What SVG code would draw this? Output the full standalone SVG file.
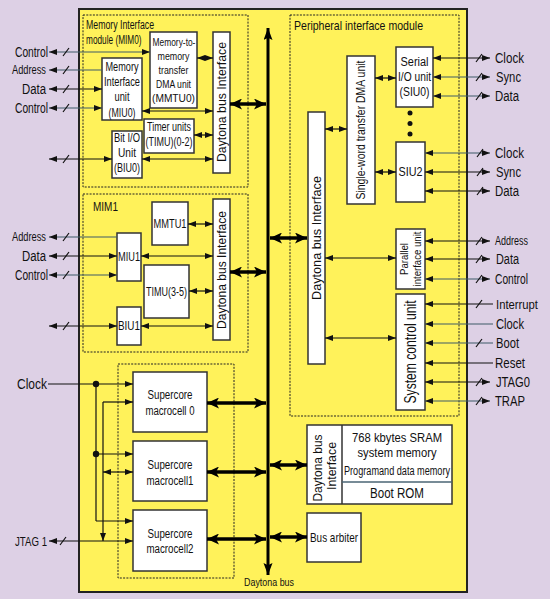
<svg xmlns="http://www.w3.org/2000/svg" width="550" height="599" viewBox="0 0 550 599">
<style>
.t{font-family:"Liberation Sans",Arial,sans-serif;fill:#111;dominant-baseline:central;text-anchor:middle}
.s{text-anchor:start}
.bx{fill:#fff;stroke:#333;stroke-width:1.5}
.dt{fill:none;stroke:#222;stroke-width:1;stroke-dasharray:2 1.3}
.ln{fill:none;stroke:#111;stroke-width:1.2}
.gl{fill:none;stroke:#3f5a68;stroke-width:1.2}
.b{marker-start:url(#a);marker-end:url(#a)}
.st{marker-start:url(#a)}
.en{marker-end:url(#a)}
.th{fill:none;stroke:#000;stroke-width:3.5;marker-start:url(#A);marker-end:url(#A)}
.sl{fill:none;stroke:#111;stroke-width:1.2}
</style>
<defs>
<marker id="a" viewBox="0 0 8 6" refX="8" refY="3" markerWidth="8" markerHeight="6" markerUnits="userSpaceOnUse" orient="auto-start-reverse"><path d="M0,0 L8,3 L0,6 z" fill="#111"/></marker>
<marker id="A" viewBox="0 0 12 11" refX="12" refY="5.5" markerWidth="12" markerHeight="11" markerUnits="userSpaceOnUse" orient="auto-start-reverse"><path d="M0,0 L12,5.5 L0,11 L3,5.5 z" fill="#000"/></marker>
<marker id="B" viewBox="0 0 12 16" refX="16" refY="6" markerWidth="16" markerHeight="12" markerUnits="userSpaceOnUse" orient="auto-start-reverse"><path d="M0,0 L16,6 L0,12 L3,6 z" fill="#000"/></marker>
</defs>
<rect width="550" height="599" fill="#ddd0e5"/>
<rect x="79" y="9" width="388" height="583" fill="#fff25a" stroke="#222" stroke-width="2"/>

<!-- dotted module frames -->
<g id="mim0-frame"><rect class="dt" x="83" y="15" width="165" height="172"/>
<text class="t s" x="86" y="25" font-size="12" textLength="68" lengthAdjust="spacingAndGlyphs">Memory Interface</text>
<text class="t s" transform="translate(86,40) scale(0.69,1)" x="0" y="0" font-size="12">module (MIM0)</text></g>
<g id="mim1-frame"><rect class="dt" x="83" y="194" width="165" height="158"/>
<text class="t s" x="93" y="207" font-size="12" textLength="25" lengthAdjust="spacingAndGlyphs">MIM1</text></g>
<g id="pim-frame"><rect class="dt" x="290" y="15" width="169" height="401"/>
<text class="t s" x="294" y="25" font-size="13" textLength="129" lengthAdjust="spacingAndGlyphs">Peripheral interface module</text></g>
<g id="core-frame"><rect class="dt" x="118" y="364" width="116" height="214"/></g>

<!-- MIM0 nodes -->
<g id="mmtu0"><rect class="bx" x="150" y="32" width="47" height="76"/>
<text class="t" transform="translate(174,42) scale(0.73,1)" x="0" y="0" font-size="11.5">Memory-to-</text>
<text class="t" x="173.5" y="56" font-size="11.5" textLength="32" lengthAdjust="spacingAndGlyphs">memory</text>
<text class="t" x="173.5" y="70" font-size="11.5" textLength="30" lengthAdjust="spacingAndGlyphs">transfer</text>
<text class="t" x="173.5" y="84" font-size="11.5" textLength="35" lengthAdjust="spacingAndGlyphs">DMA unit</text>
<text class="t" x="173.5" y="98" font-size="11.5" textLength="43" lengthAdjust="spacingAndGlyphs">(MMTU0)</text></g>
<g id="dbi0"><rect class="bx" x="213" y="32" width="17" height="141"/>
<text class="t" transform="translate(221.5,102) rotate(-90)" x="0" y="0" font-size="13" textLength="120" lengthAdjust="spacingAndGlyphs">Daytona bus Interface</text></g>
<g id="miu0"><rect class="bx" x="102" y="58" width="40" height="62"/>
<text class="t" x="122" y="67" font-size="12" textLength="33" lengthAdjust="spacingAndGlyphs">Memory</text>
<text class="t" x="122" y="82" font-size="12" textLength="36" lengthAdjust="spacingAndGlyphs">Interface</text>
<text class="t" x="122" y="97" font-size="12" textLength="15" lengthAdjust="spacingAndGlyphs">unit</text>
<text class="t" x="122" y="113" font-size="12" textLength="27" lengthAdjust="spacingAndGlyphs">(MIU0)</text></g>
<g id="timu0"><rect class="bx" x="144" y="119" width="50" height="34"/>
<text class="t" x="169" y="127" font-size="12" textLength="44" lengthAdjust="spacingAndGlyphs">Timer units</text>
<text class="t" x="169" y="142" font-size="12" textLength="47" lengthAdjust="spacingAndGlyphs">(TIMU)(0-2)</text></g>
<g id="biu0"><rect class="bx" x="112" y="131" width="30" height="47"/>
<text class="t" x="127" y="138" font-size="12" textLength="26" lengthAdjust="spacingAndGlyphs">Bit I/O</text>
<text class="t" x="127" y="153" font-size="12" textLength="18" lengthAdjust="spacingAndGlyphs">Unit</text>
<text class="t" x="127" y="168" font-size="12" textLength="26" lengthAdjust="spacingAndGlyphs">(BIU0)</text></g>

<!-- MIM1 nodes -->
<g id="mmtu1"><rect class="bx" x="152" y="202" width="36" height="43"/>
<text class="t" x="170" y="224" font-size="12" textLength="33" lengthAdjust="spacingAndGlyphs">MMTU1</text></g>
<g id="dbi1"><rect class="bx" x="213" y="199" width="17" height="141"/>
<text class="t" transform="translate(221.5,270) rotate(-90)" x="0" y="0" font-size="13" textLength="118" lengthAdjust="spacingAndGlyphs">Daytona bus Interface</text></g>
<g id="miu1"><rect class="bx" x="117" y="233" width="24" height="48"/>
<text class="t" x="129" y="257" font-size="12" textLength="22" lengthAdjust="spacingAndGlyphs">MIU1</text></g>
<g id="timu1"><rect class="bx" x="144" y="265" width="45" height="53"/>
<text class="t" x="166.5" y="292" font-size="12" textLength="41" lengthAdjust="spacingAndGlyphs">TIMU(3-5)</text></g>
<g id="biu1"><rect class="bx" x="117" y="307" width="24" height="38"/>
<text class="t" x="129" y="326" font-size="12" textLength="22" lengthAdjust="spacingAndGlyphs">BIU1</text></g>

<!-- Peripheral nodes -->
<g id="dbip"><rect class="bx" x="308" y="112" width="17" height="252"/>
<text class="t" transform="translate(316.5,238) rotate(-90)" x="0" y="0" font-size="13" textLength="124" lengthAdjust="spacingAndGlyphs">Daytona bus Interface</text></g>
<g id="dma"><rect class="bx" x="347" y="56" width="28" height="148"/>
<text class="t" transform="translate(361,130) rotate(-90)" x="0" y="0" font-size="12.5" textLength="139" lengthAdjust="spacingAndGlyphs">Single-word transfer DMA unit</text></g>
<g id="siu0"><rect class="bx" x="396" y="47" width="37" height="60"/>
<text class="t" x="414.5" y="62" font-size="12" textLength="28" lengthAdjust="spacingAndGlyphs">Serial</text>
<text class="t" x="414.5" y="77" font-size="12" textLength="33" lengthAdjust="spacingAndGlyphs">I/O unit</text>
<text class="t" x="414.5" y="92" font-size="12" textLength="30" lengthAdjust="spacingAndGlyphs">(SIU0)</text></g>
<g id="dots"><circle cx="410" cy="113" r="2.5" fill="#111"/><circle cx="410" cy="123.5" r="2.5" fill="#111"/><circle cx="410" cy="134" r="2.5" fill="#111"/></g>
<g id="siu2"><rect class="bx" x="396" y="142" width="29" height="60"/>
<text class="t" x="410.5" y="172" font-size="12" textLength="24" lengthAdjust="spacingAndGlyphs">SIU2</text></g>
<g id="piu"><rect class="bx" x="396" y="229" width="29" height="60"/>
<text class="t" transform="translate(404,259) rotate(-90)" x="0" y="0" font-size="10" textLength="32" lengthAdjust="spacingAndGlyphs">Parallel</text>
<text class="t" transform="translate(417,259) rotate(-90)" x="0" y="0" font-size="10" textLength="55" lengthAdjust="spacingAndGlyphs">interface unit</text></g>
<g id="scu"><rect class="bx" x="396" y="294" width="29" height="116"/>
<text class="t" transform="translate(410.5,352) rotate(-90)" x="0" y="0" font-size="16" textLength="103" lengthAdjust="spacingAndGlyphs">System control unit</text></g>

<!-- Supercore nodes -->
<g id="sc0"><rect class="bx" x="133" y="372" width="74" height="60"/>
<text class="t" x="170" y="395" font-size="12" textLength="45" lengthAdjust="spacingAndGlyphs">Supercore</text>
<text class="t" x="170" y="411" font-size="12" textLength="49" lengthAdjust="spacingAndGlyphs">macrocell 0</text></g>
<g id="sc1"><rect class="bx" x="133" y="441" width="74" height="60"/>
<text class="t" x="170" y="465" font-size="12" textLength="45" lengthAdjust="spacingAndGlyphs">Supercore</text>
<text class="t" x="170" y="481" font-size="12" textLength="47" lengthAdjust="spacingAndGlyphs">macrocell1</text></g>
<g id="sc2"><rect class="bx" x="133" y="510" width="74" height="61"/>
<text class="t" x="170" y="534" font-size="12" textLength="45" lengthAdjust="spacingAndGlyphs">Supercore</text>
<text class="t" x="170" y="549" font-size="12" textLength="47" lengthAdjust="spacingAndGlyphs">macrocell2</text></g>

<!-- Memory / arbiter -->
<g id="mem"><rect class="bx" x="307" y="425" width="145" height="79"/>
<line x1="342" y1="425" x2="342" y2="504" stroke="#333" stroke-width="1.5"/>
<line x1="342" y1="482" x2="452" y2="482" stroke="#4a6575" stroke-width="1.5"/>
<text class="t" transform="translate(318,468) rotate(-90)" x="0" y="0" font-size="12.5" textLength="67" lengthAdjust="spacingAndGlyphs">Daytona bus</text>
<text class="t" transform="translate(332,466) rotate(-90)" x="0" y="0" font-size="12.5" textLength="48" lengthAdjust="spacingAndGlyphs">Interface</text>
<text class="t" x="397" y="437" font-size="13" textLength="90" lengthAdjust="spacingAndGlyphs">768 kbytes SRAM</text>
<text class="t" x="397" y="452" font-size="13" textLength="79" lengthAdjust="spacingAndGlyphs">system memory</text>
<text class="t" x="397" y="471" font-size="12" textLength="106" lengthAdjust="spacingAndGlyphs">Programand data memory</text>
<text class="t" x="397" y="493" font-size="14" textLength="54" lengthAdjust="spacingAndGlyphs">Boot ROM</text></g>
<g id="arb"><rect class="bx" x="307" y="513" width="54" height="49"/>
<text class="t" x="334" y="537" font-size="13" textLength="48" lengthAdjust="spacingAndGlyphs">Bus arbiter</text></g>

<!-- external labels -->
<g id="labels-left">
<text class="t" x="31.5" y="52" font-size="14" textLength="33" lengthAdjust="spacingAndGlyphs">Control</text>
<text class="t" x="29" y="70" font-size="12" textLength="34" lengthAdjust="spacingAndGlyphs">Address</text>
<text class="t" x="34" y="89" font-size="14" textLength="24" lengthAdjust="spacingAndGlyphs">Data</text>
<text class="t" x="31.5" y="108" font-size="14" textLength="33" lengthAdjust="spacingAndGlyphs">Control</text>
<text class="t" x="29" y="237" font-size="12" textLength="34" lengthAdjust="spacingAndGlyphs">Address</text>
<text class="t" x="34" y="256" font-size="14" textLength="24" lengthAdjust="spacingAndGlyphs">Data</text>
<text class="t" x="31.5" y="275" font-size="14" textLength="33" lengthAdjust="spacingAndGlyphs">Control</text>
<text class="t" x="32" y="384" font-size="14" textLength="30" lengthAdjust="spacingAndGlyphs">Clock</text>
<text class="t" x="31" y="541" font-size="13" textLength="32" lengthAdjust="spacingAndGlyphs">JTAG 1</text>
</g>
<g id="labels-right">
<text class="t" x="509.5" y="58" font-size="14" textLength="29" lengthAdjust="spacingAndGlyphs">Clock</text>
<text class="t" x="508.5" y="77" font-size="14" textLength="25" lengthAdjust="spacingAndGlyphs">Sync</text>
<text class="t" x="507" y="96" font-size="14" textLength="24" lengthAdjust="spacingAndGlyphs">Data</text>
<text class="t" x="509.5" y="153" font-size="14" textLength="29" lengthAdjust="spacingAndGlyphs">Clock</text>
<text class="t" x="508.5" y="172" font-size="14" textLength="25" lengthAdjust="spacingAndGlyphs">Sync</text>
<text class="t" x="507" y="191" font-size="14" textLength="24" lengthAdjust="spacingAndGlyphs">Data</text>
<text class="t" x="511.5" y="241" font-size="12" textLength="33" lengthAdjust="spacingAndGlyphs">Address</text>
<text class="t" x="507.5" y="259" font-size="14" textLength="23" lengthAdjust="spacingAndGlyphs">Data</text>
<text class="t" x="511.5" y="279" font-size="14" textLength="33" lengthAdjust="spacingAndGlyphs">Control</text>
<text class="t" x="517" y="304" font-size="13" textLength="42" lengthAdjust="spacingAndGlyphs">Interrupt</text>
<text class="t" x="510" y="324" font-size="14" textLength="28" lengthAdjust="spacingAndGlyphs">Clock</text>
<text class="t" x="507.5" y="343" font-size="14" textLength="23" lengthAdjust="spacingAndGlyphs">Boot</text>
<text class="t" x="510" y="363" font-size="14" textLength="30" lengthAdjust="spacingAndGlyphs">Reset</text>
<text class="t" x="513" y="382" font-size="14" textLength="34" lengthAdjust="spacingAndGlyphs">JTAG0</text>
<text class="t" x="510" y="401" font-size="14" textLength="30" lengthAdjust="spacingAndGlyphs">TRAP</text>
</g>
<text class="t" x="269" y="582" font-size="11" textLength="50" lengthAdjust="spacingAndGlyphs">Daytona bus</text>

<!-- connectors -->
<g id="connectors">
<line x1="268" y1="28" x2="268" y2="575" stroke="#000" stroke-width="3" marker-start="url(#B)" marker-end="url(#B)"/>
<!-- MIM0 external -->
<line class="gl b" x1="49" y1="52" x2="150" y2="52"/>
<line class="gl st" x1="49" y1="70" x2="102" y2="70"/>
<line class="ln b" x1="49" y1="89" x2="102" y2="89"/>
<line class="gl b" x1="49" y1="108" x2="102" y2="108"/>
<line class="ln b" x1="49" y1="159" x2="112" y2="159"/>
<!-- MIM0 internal -->
<line class="ln b" x1="197" y1="58" x2="213" y2="58"/>
<line class="ln b" x1="142" y1="111" x2="213" y2="111"/>
<line class="ln b" x1="194" y1="135" x2="213" y2="135"/>
<line class="ln b" x1="142" y1="159" x2="213" y2="159"/>
<line class="th" x1="230" y1="104" x2="266" y2="104"/>
<!-- MIM1 external -->
<line class="gl st" x1="49" y1="237" x2="117" y2="237"/>
<line class="ln b" x1="49" y1="256" x2="117" y2="256"/>
<line class="gl b" x1="49" y1="275" x2="117" y2="275"/>
<line class="ln b" x1="49" y1="326" x2="117" y2="326"/>
<!-- MIM1 internal -->
<line class="ln b" x1="188" y1="224" x2="213" y2="224"/>
<line class="ln b" x1="141" y1="256" x2="213" y2="256"/>
<line class="ln b" x1="189" y1="291" x2="213" y2="291"/>
<line class="ln b" x1="141" y1="326" x2="213" y2="326"/>
<line class="th" x1="230" y1="272" x2="266" y2="272"/>
<!-- peripheral -->
<line class="th" x1="270" y1="238" x2="307" y2="238"/>
<line class="ln b" x1="325" y1="129" x2="347" y2="129"/>
<line class="ln b" x1="375" y1="78" x2="396" y2="78"/>
<line class="ln b" x1="375" y1="172" x2="396" y2="172"/>
<line class="ln b" x1="325" y1="258" x2="396" y2="258"/>
<line class="ln b" x1="325" y1="338" x2="396" y2="338"/>
<line class="ln b" x1="433" y1="58" x2="490" y2="58"/>
<line class="gl b" x1="433" y1="77" x2="490" y2="77"/>
<line class="gl b" x1="433" y1="96" x2="490" y2="96"/>
<line class="gl b" x1="425" y1="153" x2="490" y2="153"/>
<line class="ln b" x1="425" y1="172" x2="490" y2="172"/>
<line class="ln b" x1="425" y1="191" x2="490" y2="191"/>
<line class="ln b" x1="425" y1="241" x2="490" y2="241"/>
<line class="ln b" x1="425" y1="259" x2="490" y2="259"/>
<line class="gl b" x1="425" y1="279" x2="490" y2="279"/>
<line class="ln st" x1="425" y1="304" x2="493" y2="304"/>
<line class="gl st" x1="425" y1="324" x2="493" y2="324"/>
<line class="gl st" x1="425" y1="343" x2="493" y2="343"/>
<line class="ln st" x1="425" y1="363" x2="493" y2="363"/>
<line class="ln b" x1="425" y1="382" x2="490" y2="382"/>
<line class="gl b" x1="425" y1="401" x2="490" y2="401"/>
<!-- supercore -->
<line class="ln en" x1="48" y1="384" x2="133" y2="384"/>
<line class="ln" x1="96" y1="384" x2="96" y2="521"/>
<circle cx="96" cy="384" r="3.2" fill="#111"/>
<circle cx="96" cy="454" r="3.2" fill="#111"/>
<line class="ln en" x1="96" y1="454" x2="133" y2="454"/>
<line class="ln en" x1="96" y1="521" x2="133" y2="521"/>
<line class="ln en" x1="103" y1="402" x2="103" y2="541"/>
<line class="ln en" x1="103" y1="402" x2="133" y2="402"/>
<line class="ln b" x1="103" y1="472" x2="133" y2="472"/>
<line class="ln b" x1="49" y1="541" x2="133" y2="541"/>
<line class="th" x1="207" y1="403" x2="266" y2="403"/>
<line class="th" x1="207" y1="472" x2="266" y2="472"/>
<line class="th" x1="207" y1="539" x2="266" y2="539"/>
<!-- memory / arbiter -->
<line class="th" x1="270" y1="465" x2="307" y2="465"/>
<line class="th" x1="270" y1="537" x2="307" y2="537"/>
<!-- bus-width slashes -->
<path class="sl" d="M63,56 L69,48 M63,74 L69,66 M63,93 L69,85 M63,112 L69,104 M63,163 L69,155 M63,241 L69,233 M63,260 L69,252 M63,279 L69,271 M63,330 L69,322 M60,545 L66,537"/>
<path class="sl" d="M476,62 L482,54 M476,81 L482,73 M476,100 L482,92 M477,157 L483,149 M477,176 L483,168 M477,195 L483,187 M476,245 L482,237 M476,263 L482,255 M476,283 L482,275 M476,308 L482,300 M476,347 L482,339 M476,386 L482,378 M476,405 L482,397"/>
</g>
</svg>
